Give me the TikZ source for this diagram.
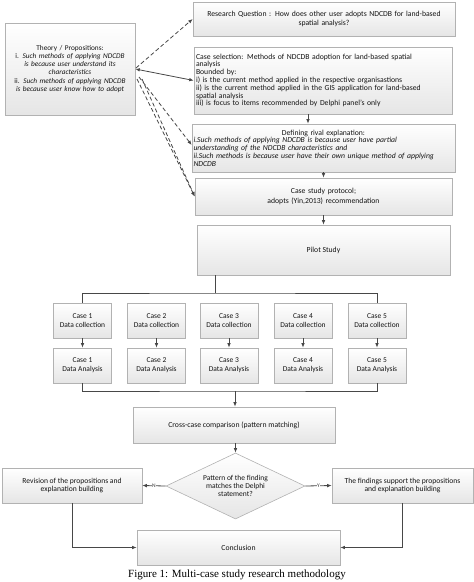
\documentclass[tikz,border=0pt]{standalone}
\usepackage{fontspec}
\setmainfont{Carlito}
\newfontfamily\capfont{Liberation Serif}
\usetikzlibrary{arrows.meta,shapes.geometric}
\begin{document}
\begin{tikzpicture}[x=1pt,y=-1pt,
  box/.style={draw=gray!60, line width=0.6pt, top color=white, bottom color=gray!20,
    inner sep=2pt, text=black!92, font=\fontsize{7.7}{7.8}\selectfont},
  ln/.style={draw=black!72, line width=0.8pt},
  arr/.style={ln, -{Latex[length=4.5pt,width=3.6pt]}},
  dsh/.style={arr, dash pattern=on 4pt off 2.5pt},
  lab/.style={fill=white, inner sep=0.6pt, text=black!80, font=\fontsize{5.5}{6}\selectfont}
]
\useasboundingbox (0,0) rectangle (474,582);

% top column
\node[box, minimum width=262pt, minimum height=34pt, text width=256pt, align=center, font=\fontsize{7.7}{9}\selectfont] (rq) at (324,19)
  {Research Question : How does other user adopts NDCDB for land-based\\ spatial analysis?};
\node[box, minimum width=130pt, minimum height=92pt, text width=127pt, inner sep=1.5pt, align=center,
  font=\fontsize{7.3}{8.1}\selectfont] (theory) at (70,69)
  {Theory / Propositions:\\ i. \textit{Such methods of applying NDCDB}\\ \textit{is because user understand its}\\
   \textit{characteristics}\\ ii. \textit{Such methods of applying NDCDB}\\ \textit{is because user know how to adopt}};
\node[box, minimum width=258pt, minimum height=67pt, text width=254pt, align=left] (cs) at (323,80.5)
  {Case selection: Methods of NDCDB adoption for land-based spatial\\ analysis\\ Bounded by:\\
   i) is the current method applied in the respective organisastions\\
   ii) is the current method applied in the GIS application for land-based\\ spatial analysis\\
   iii) is focus to items recommended by Delphi panel's only};
\node[box, minimum width=263pt, minimum height=48pt, text width=260pt, inner sep=1.5pt, align=left] (rival) at (323.5,148)
  {{\centering Defining rival explanation:\par}\itshape
   i.Such methods of applying NDCDB is because user have partial\\
   understanding of the NDCDB characteristics and\\
   ii.Such methods is because user have their own unique method of applying\\ NDCDB};
\node[box, minimum width=257pt, minimum height=37pt, text width=250pt, align=center] (proto) at (323.5,196.5)
  {Case study protocol;\\[3pt] adopts (Yin,2013) recommendation};
\node[box, minimum width=253pt, minimum height=50pt, align=center] (pilot) at (323.5,250) {Pilot Study};

% cases
\foreach \i/\x in {1/82.5,2/156.5,3/229,4/303,5/377}{
  \node[box, minimum width=58pt, minimum height=35pt, align=center, font=\fontsize{7.5}{8}\selectfont] (c\i) at (\x,320.5) {Case \i\\[1pt] Data collection};
  \node[box, minimum width=58pt, minimum height=35pt, align=center, font=\fontsize{7.5}{8}\selectfont] (a\i) at (\x,365.5) {Case \i\\[1pt] Data Analysis};
  \draw[arr] (c\i) -- (a\i);
}

\node[box, minimum width=202pt, minimum height=36pt, align=center] (cross) at (234,425) {Cross-case comparison (pattern matching)};
\node[box, diamond, aspect=2.1, minimum width=139pt, minimum height=66pt, inner sep=0pt, align=center,
  font=\fontsize{7.5}{8.1}\selectfont] (dia) at (235.5,486)
  {Pattern of the finding\\ matches the Delphi\\ statement?};
\node[box, minimum width=140pt, minimum height=35pt, align=center, font=\fontsize{7.6}{8.8}\selectfont] (rev) at (72,485.5)
  {Revision of the propositions and\\ explanation building};
\node[box, minimum width=141pt, minimum height=35pt, align=center, font=\fontsize{7.6}{8.8}\selectfont] (find) at (402.5,485.5)
  {The findings support the propositions\\ and explanation building};
\node[box, minimum width=203pt, minimum height=35pt, align=center] (conc) at (238.5,547.5) {Conclusion};
\node[font=\capfont\fontsize{11}{13}\selectfont, inner sep=0pt] (cap) at (237,575)
  {Figure 1: Multi-case study research methodology};

% theory connectors
\coordinate (t0) at (136,68);
\coordinate (t1) at (139,77);
\coordinate (t2) at (137,79);
\coordinate (t3) at (142,79);
\draw[dsh] (t0) -- (rq.west);
\draw[ln, {Latex[length=4.5pt,width=3.6pt]}-{Latex[length=4.5pt,width=3.6pt]}] (theory.east) -- (cs.west);
\draw[dsh] (t1) -- ([yshift=3pt]rival.west);
\draw[dsh] (t2) -- (proto.west);
\draw[dsh] (t3) -- (proto.west);

% main column
\draw[arr] ([xshift=-15pt]cs.south) -- ([xshift=-15pt]cs.south |- rival.north);
\draw[arr] (rival.south) -- (proto.north);
\draw[arr] (proto.south) -- (pilot.north);
\coordinate (bus1) at (215,293);
\draw[ln] (pilot.south -| bus1) -- (bus1);
\draw[ln] (c1.north) |- (bus1) -| (c5.north);
\coordinate (bus2) at (235,391);
\draw[ln] (a1.south) |- (bus2) -| (a5.south);
\draw[arr] (bus2) -- (bus2 |- cross.north);
\draw[arr] (cross.south -| dia.north) -- (dia.north);
\draw[arr] (dia.west) -- node[lab]{N} (rev.east);
\draw[arr] (dia.east) -- node[lab]{Y} (find.west);
\draw[arr] (rev.south) |- (conc.west);
\draw[arr] (find.south) |- (conc.east);
\end{tikzpicture}
\end{document}
